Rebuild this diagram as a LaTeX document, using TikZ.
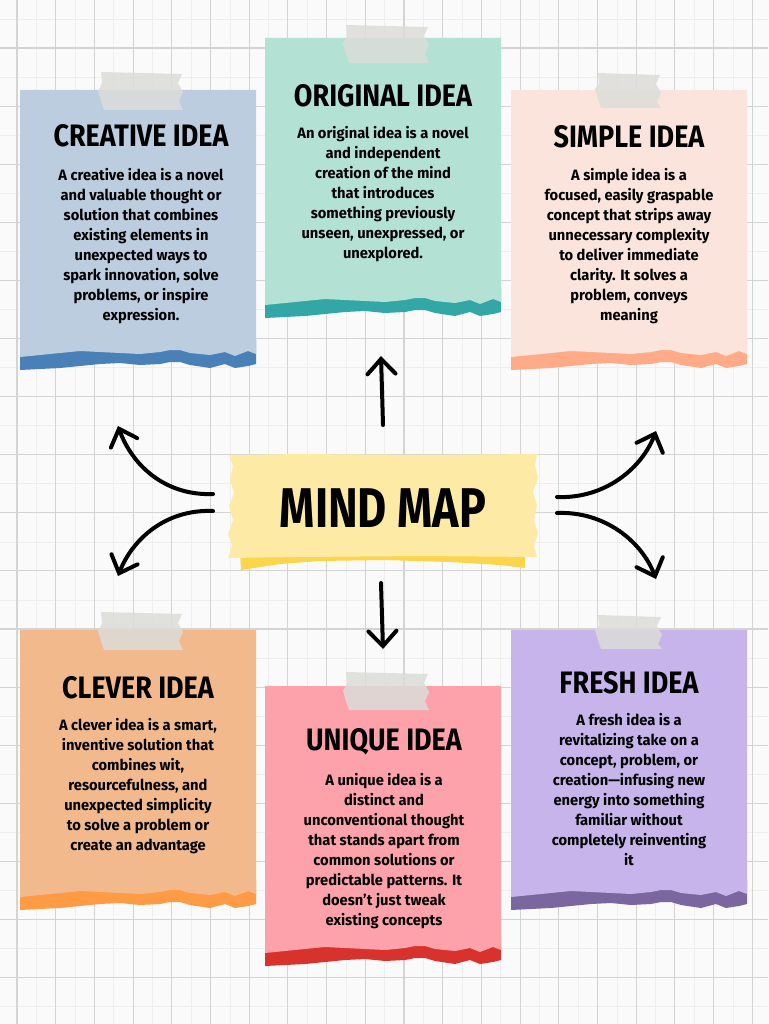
\documentclass[tikz,border=0pt]{standalone}
\usepackage{fontspec}
\setmainfont{Fira Sans}
\newfontfamily\titlefont{Fira Sans}[FakeStretch=0.87]
\newfontfamily\bodyfont{Fira Sans}[FakeStretch=0.98]
\newfontfamily\mapfont{Fira Sans}[FakeStretch=0.8]
\usetikzlibrary{arrows.meta}
\definecolor{bgcol}{HTML}{FAFAFA}
\definecolor{gridcol}{HTML}{D4D4D4}
\definecolor{gridfaint}{HTML}{EEEEEE}
\definecolor{tapecol}{HTML}{DCDDD9}
\definecolor{blueL}{HTML}{BCCDE0}\definecolor{blueD}{HTML}{4A80B8}
\definecolor{mintL}{HTML}{B3E1D3}\definecolor{mintD}{HTML}{33A6A6}
\definecolor{peachL}{HTML}{FBE4DC}\definecolor{peachD}{HTML}{FFAB88}
\definecolor{orangeL}{HTML}{F2B98C}\definecolor{orangeD}{HTML}{FF9A45}
\definecolor{pinkL}{HTML}{FDA2AB}\definecolor{pinkD}{HTML}{D8322C}
\definecolor{lilacL}{HTML}{C6B4EB}\definecolor{lilacD}{HTML}{7B679F}
\definecolor{yelL}{HTML}{FDEBA5}\definecolor{yelD}{HTML}{FCD54C}
\tikzset{
  gridline/.style={draw=gridcol, line width=1.1pt},
  gridminor/.style={draw=gridfaint, line width=0.6pt},
  cardtitle/.style={font=\titlefont\bfseries\fontsize{31}{31}\selectfont, inner sep=0pt, anchor=center},
  cardbody/.style={font=\bodyfont\bfseries\fontsize{15}{20}\selectfont, align=center, inner sep=0pt, anchor=north},
  bigarrow/.style={line width=4pt, line cap=round, -{Straight Barb[length=15pt,width=28pt,line cap=round]}},
  pics/card/.style 2 args={code={
    \fill[#2] (0,250) -- (236,250) -- (236,274) -- (228,276) -- (215,278) -- (205,274) -- (190,278) -- (170,275) -- (160,272) -- (150,272) -- (140,274) -- (120,275) -- (100,273) -- (80,274) -- (60,276) -- (40,278) -- (20,279) -- (0,280) -- cycle;
    \fill[#1] (0,0) -- (236,0) -- (236,264) -- (228,261) -- (215,266) -- (205,262) -- (190,265) -- (170,263) -- (160,260) -- (150,260) -- (140,262) -- (120,264) -- (100,263) -- (80,262) -- (60,261) -- (40,263) -- (20,265) -- (0,267) -- cycle;
  }},
  pics/tape/.style 2 args={code={
    \fill[tapecol, opacity=0.85] (1,0) -- (#1,2) -- (#1-4,11) -- (#1+1,20) -- (#1-3,29) -- (#1+1,#2) -- (4,#2) -- (1,#2-9) -- (-2,#2-19) -- (2,11) -- cycle;
  }},
}
\begin{document}
\begin{tikzpicture}[x=1pt, y=-1pt]
\useasboundingbox (0,0) rectangle (768,1024);
\fill[bgcol] (0,0) rectangle (768,1024);
% grid
\foreach \i in {0,...,19} \draw[gridminor] ({36.35+38.7*\i},0) -- ({36.35+38.7*\i},1024);
\foreach \j in {-1,...,16} \draw[gridminor] (0,{77.05+58.1*\j}) -- (768,{77.05+58.1*\j});
\foreach \i in {0,...,19} \draw[gridline] ({17+38.7*\i},0) -- ({17+38.7*\i},1024);
\foreach \j in {0,...,16} \draw[gridline] (0,{48+58.1*\j}) -- (768,{48+58.1*\j});

% cards
\pic (c1) at (20,90)  {card={blueL}{blueD}};
\pic (c2) at (265,38) {card={mintL}{mintD}};
\pic (c3) at (511,90) {card={peachL}{peachD}};
\pic (c4) at (20,630) {card={orangeL}{orangeD}};
\pic (c5) at (265,686) {card={pinkL}{pinkD}};
\pic (c6) at (511,630) {card={lilacL}{lilacD}};
% tapes
\pic (p1) at (100,72)  {tape={82}{38}};
\pic (p2) at (345,25)  {tape={83}{38}};
\pic (p3) at (597,73)  {tape={63}{35}};
\pic (p4) at (100,612) {tape={82}{38}};
\pic (p5) at (345,672) {tape={83}{38}};
\pic (p6) at (597,615) {tape={64}{34}};

% titles
\node[cardtitle] (t1) at (141,136) {CREATIVE IDEA};
\node[cardtitle] (t2) at (383,96)  {ORIGINAL IDEA};
\node[cardtitle] (t3) at (629,137) {SIMPLE IDEA};
\node[cardtitle] (t4) at (138,688) {CLEVER IDEA};
\node[cardtitle] (t5) at (384,742) {UNIQUE IDEA};
\node[cardtitle] (t6) at (629,683) {FRESH IDEA};

% bodies
\node[cardbody] (b1) at (141,168) {A creative idea is a novel\\and valuable thought or\\solution that combines\\existing elements in\\unexpected ways to\\spark innovation, solve\\problems, or inspire\\expression.};
\node[cardbody] (b2) at (383,126) {An original idea is a novel\\and independent\\creation of the mind\\that introduces\\something previously\\unseen, unexpressed, or\\unexplored.};
\node[cardbody] (b3) at (629,168) {A simple idea is a\\focused, easily graspable\\concept that strips away\\unnecessary complexity\\to deliver immediate\\clarity. It solves a\\problem, conveys\\meaning};
\node[cardbody] (b4) at (138,718) {A clever idea is a smart,\\inventive solution that\\combines wit,\\resourcefulness, and\\unexpected simplicity\\to solve a problem or\\create an advantage};
\node[cardbody] (b5) at (384,773) {A unique idea is a\\distinct and\\unconventional thought\\that stands apart from\\common solutions or\\predictable patterns. It\\doesn’t just tweak\\existing concepts};
\node[cardbody] (b6) at (629,713) {A fresh idea is a\\revitalizing take on a\\concept, problem, or\\creation—infusing new\\energy into something\\familiar without\\completely reinventing\\it};

% central tape
\fill[yelD] (240,552) -- (525,552) -- (525,568) -- (500,565) -- (450,562) -- (383,560) -- (320,561) -- (280,564) -- (241,570) -- cycle;
\fill[yelL] (229,455) -- (300,454) -- (420,455) -- (537,454) -- (535,465) -- (538,478) -- (533,492) -- (537,505) -- (534,520) -- (538,533) -- (534,546) -- (537,557) -- (420,556) -- (300,557) -- (228,558) -- (232,546) -- (228,534) -- (233,520) -- (229,506) -- (234,493) -- (230,479) -- (233,466) -- cycle;
\node[font=\mapfont\bfseries\fontsize{56}{56}\selectfont, inner sep=0pt] (mm) at (383,508) {MIND MAP};

% arrows
\coordinate (u0) at (383,425); \coordinate (u1) at (381,356);
\coordinate (d0) at (381,583); \coordinate (d1) at (383,649);
\coordinate (ul0) at (213,494); \coordinate (ul1) at (118,426);
\coordinate (dl0) at (213,511); \coordinate (dl1) at (118,576);
\coordinate (ur0) at (557,497); \coordinate (ur1) at (656,431);
\coordinate (dr0) at (557,513); \coordinate (dr1) at (656,579);
\draw[bigarrow] (u0) -- (u1);
\draw[bigarrow] (d0) -- (d1);
\draw[bigarrow] (ul0) .. controls (165,496) and (132,465) .. (ul1);
\draw[bigarrow] (dl0) .. controls (165,509) and (132,540) .. (dl1);
\draw[bigarrow] (ur0) .. controls (605,499) and (642,468) .. (ur1);
\draw[bigarrow] (dr0) .. controls (605,511) and (642,542) .. (dr1);
\end{tikzpicture}
\end{document}
